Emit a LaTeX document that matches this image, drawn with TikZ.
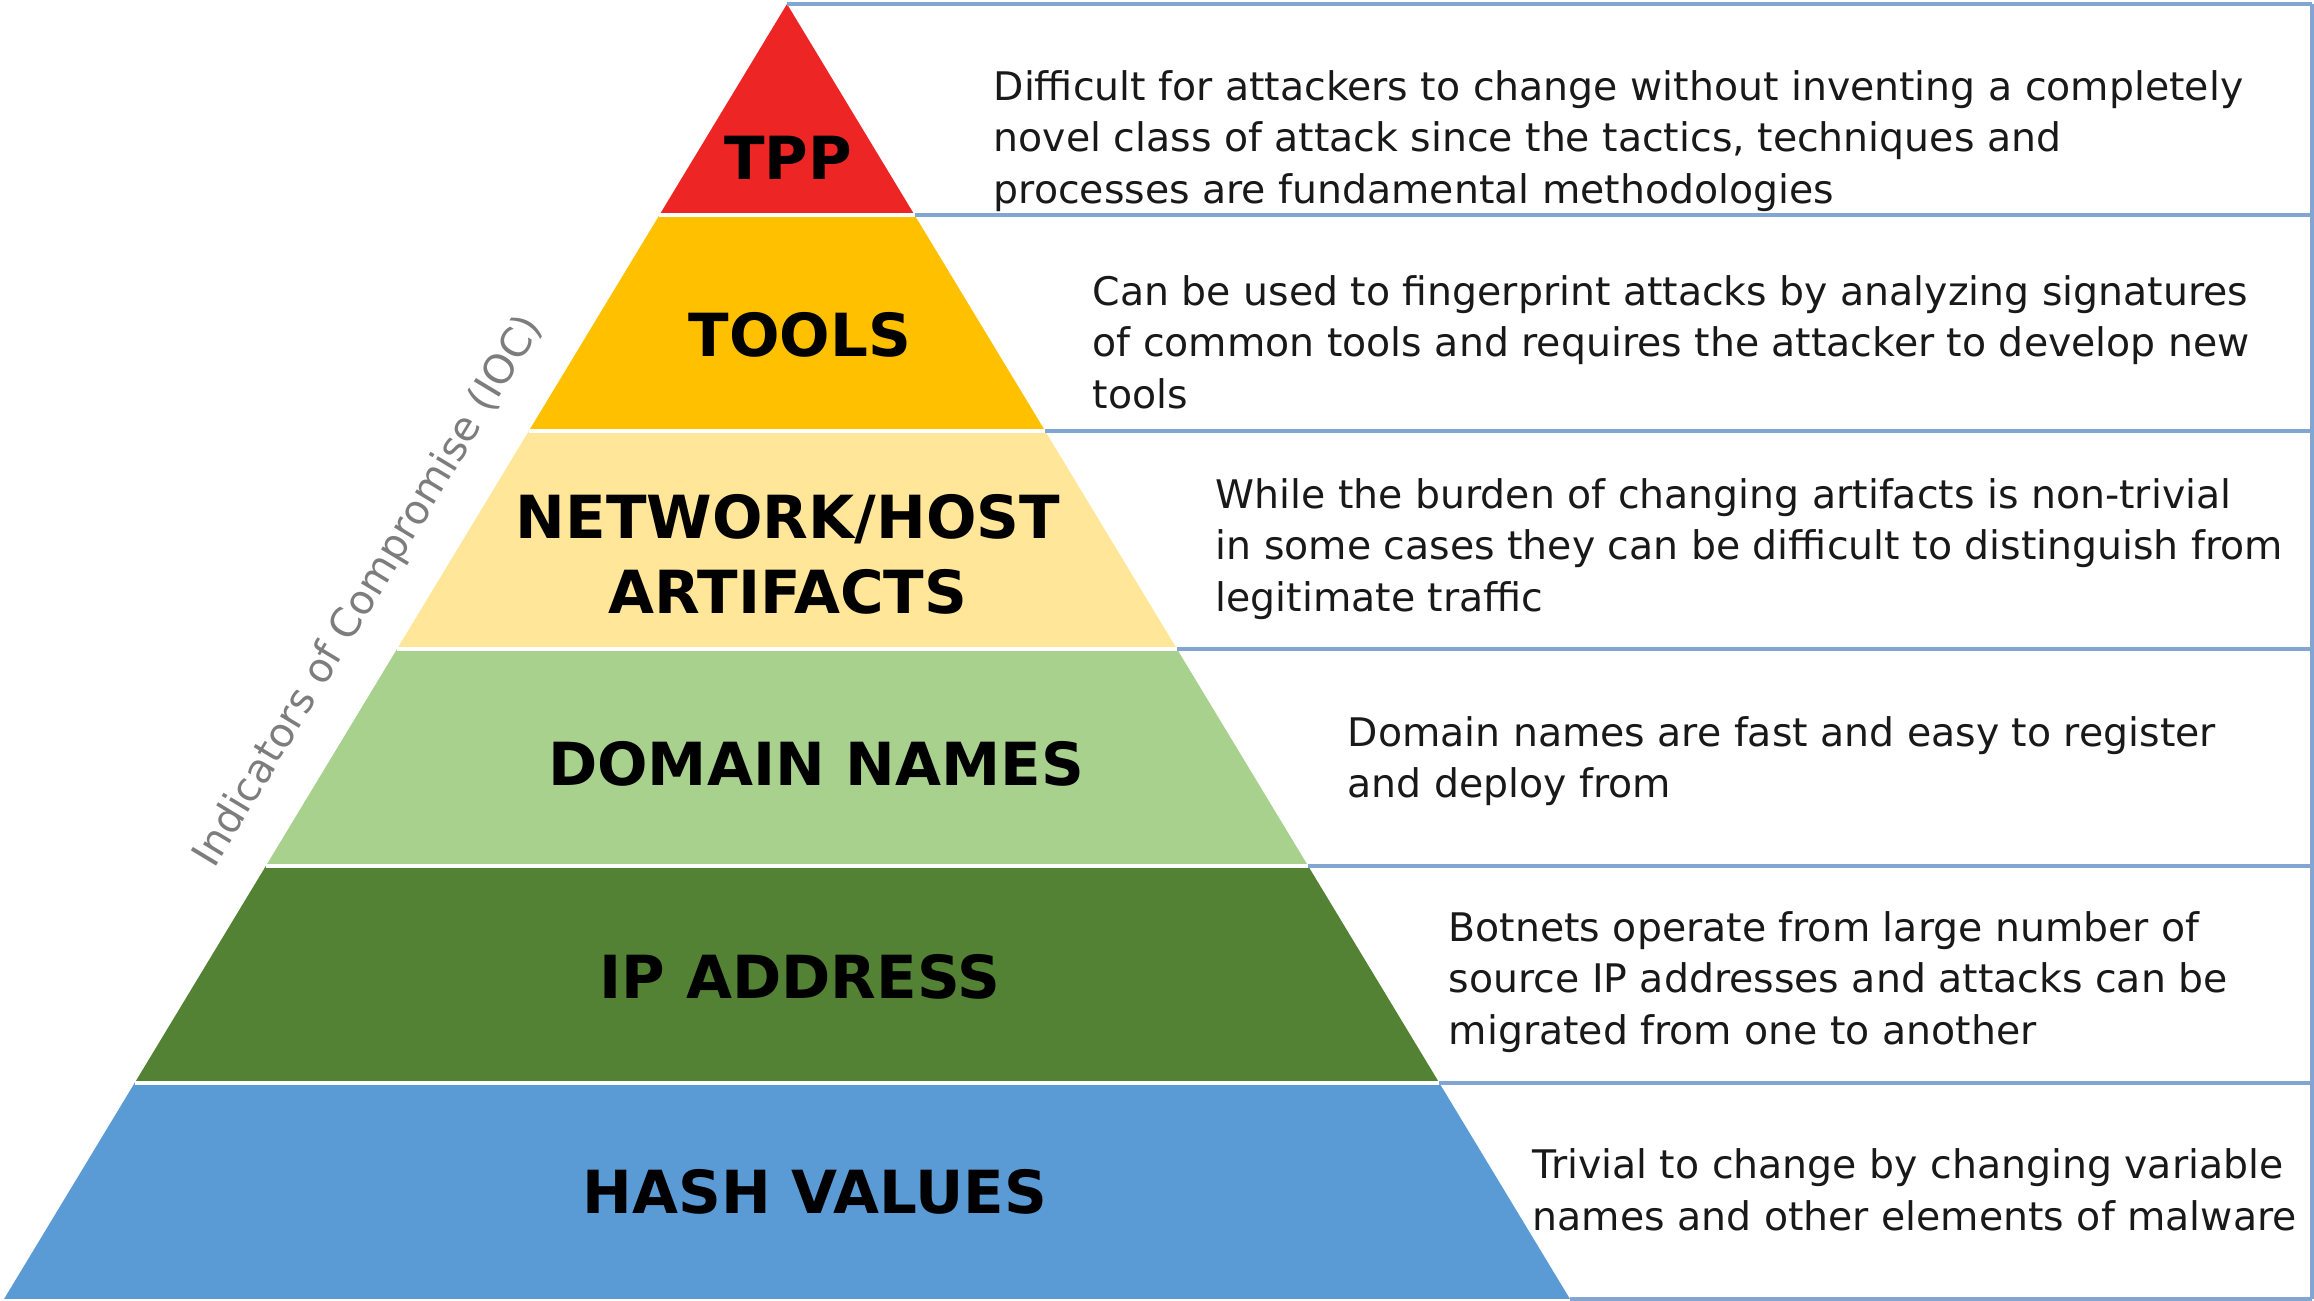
\documentclass[tikz,border=0pt]{standalone}
\usepackage{fontspec}
\setmainfont{DejaVu Sans}
\definecolor{tppred}{RGB}{237,37,37}
\definecolor{toolgold}{RGB}{255,192,0}
\definecolor{artsand}{RGB}{255,230,153}
\definecolor{domlight}{RGB}{169,209,142}
\definecolor{ipgreen}{RGB}{84,130,53}
\definecolor{hashblue}{RGB}{91,155,213}
\definecolor{rulecol}{RGB}{130,165,210}
\definecolor{iocgray}{RGB}{125,125,125}

\begin{document}
\begin{tikzpicture}[x=0.01cm,y=-0.01cm,
  tier/.style={font=\bfseries\fontsize{16.9}{21.3}\selectfont,align=center,inner sep=0pt},
  desc/.style={anchor=west,align=left,inner sep=0pt,text=black!90,
               font=\fontsize{11.2}{14.65}\selectfont},
  rule/.style={rulecol,line width=1pt}]
\useasboundingbox (0,0) rectangle (2314,1301);
% band edges of the pyramid
\foreach \y [count=\i] in {4,215,431,649,866,1083,1299} {
  \coordinate (L\i) at ({787-0.6046*(\y-4)},\y);
  \coordinate (R\i) at ({787+0.6046*(\y-4)},\y);
  \coordinate (E\i) at (2312,\y);
}
\foreach \c [count=\i] in {tppred,toolgold,artsand,domlight,ipgreen,hashblue} {
  \pgfmathtruncatemacro\j{\i+1}
  \fill[\c] (L\i) -- (R\i) -- (R\j) -- (L\j) -- cycle;
}
\foreach \i in {2,...,6} \draw[white,line width=1pt] (L\i) -- (R\i);
% rules on the right
\foreach \i in {1,...,7} \draw[rule] (R\i) -- (E\i);
\draw[rule] (E1) -- (E7);

\node[tier] (tpp) at (788,158) {TPP};
\node[tier] (tools) at (800,335) {TOOLS};
\node[tier] (art) at (788,554) {NETWORK/HOST\\ARTIFACTS};
\node[tier] (dom) at (816,764) {DOMAIN NAMES};
\node[tier] (ip) at (800,977) {IP ADDRESS};
\node[tier] (hash) at (815,1192) {HASH VALUES};

\node[desc] (tppnote) at (993,141) {Difficult for attackers to change without inventing a completely\\
  novel class of attack since the tactics, techniques and\\processes are fundamental methodologies};
\node[desc] (toolsnote) at (1092,342) {Can be used to fingerprint attacks by analyzing signatures\\
  of common tools and requires the attacker to develop new\\tools};
\node[desc] (artnote) at (1215,549) {While the burden of changing artifacts is non-trivial\\
  in some cases they can be difficult to distinguish from\\legitimate traffic};
\node[desc] (domnote) at (1347,761) {Domain names are fast and easy to register\\and deploy from};
\node[desc] (ipnote) at (1448,982) {Botnets operate from large number of\\
  source IP addresses and attacks can be\\migrated from one to another};
\node[desc] (hashnote) at (1532,1190) {Trivial to change by changing variable\\
  names and other elements of malware};

\node[text=iocgray,font=\fontsize{11.5}{13}\selectfont,rotate=58.85] (ioc) at (369,592)
  {Indicators of Compromise (IOC)};
\end{tikzpicture}
\end{document}
